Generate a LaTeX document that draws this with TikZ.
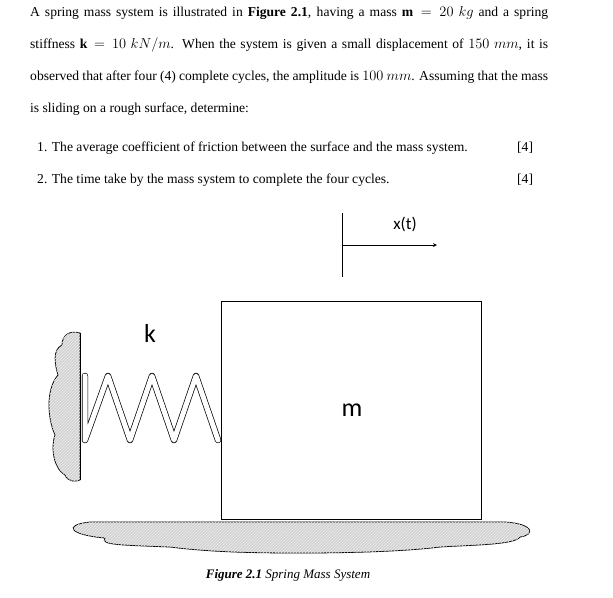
\documentclass[tikz,border=0pt]{standalone}
\usepackage{fontspec}
\setmainfont{Liberation Serif}
\newfontfamily\lsans{Carlito}
\usetikzlibrary{patterns}
\begin{document}
\begin{tikzpicture}[x=1pt,y=-1pt,
  txt/.style={anchor=west,inner sep=0pt,font=\fontsize{13.6}{15}\selectfont},
  blob/.style={draw=black,line width=0.8pt,fill=gray!35,postaction={pattern=north east lines,pattern color=white!85!gray}},
  lbl/.style={inner sep=0pt,font=\lsans\fontsize{#1}{#1}\selectfont}]
\useasboundingbox (0,0) rectangle (613,597);
\node[txt] (l1) at (30,13) {\makebox[518pt][s]{A spring mass system is illustrated in \textbf{Figure 2.1}, having a mass $\mathbf{m}=20\ kg$ and a spring}};
\node[txt] (l2) at (30,45) {\makebox[518pt][s]{stiffness $\mathbf{k}=10\ kN/m$. When the system is given a small displacement of $150\ mm$, it is}};
\node[txt] (l3) at (30,77) {\makebox[518pt][s]{observed that after four (4) complete cycles, the amplitude is $100\ mm$. Assuming that the mass}};
\node[txt] (l4) at (30,109) {is sliding on a rough surface, determine:};
\node[txt] (q1) at (37,148) {1. The average coefficient of friction between the surface and the mass system.};
\node[txt] (q2) at (37,180) {2. The time take by the mass system to complete the four cycles.};
\node[txt] (p1) at (517,148) {[4]};
\node[txt] (p2) at (517,180) {[4]};
% axis
\coordinate (ax0) at (342,213); \coordinate (ax1) at (342,277);
\coordinate (ar0) at (342,245); \coordinate (ar1) at (437,245);
\draw[line width=0.8pt] (ax0) -- (ax1);
\draw[line width=0.8pt,-stealth] (ar0) -- (ar1);
\node[lbl=17] (xt) at (405,224) {x(t)};
% wall
\path[blob] (80,333) .. controls (70,330) and (62,335) .. (62,345)
  .. controls (52,350) and (55,365) .. (58,375)
  .. controls (45,390) and (48,420) .. (55,435)
  .. controls (50,450) and (55,470) .. (65,475)
  .. controls (68,482) and (76,482) .. (80,480) -- cycle;
% ground
\path[blob] (90,522) -- (505,522) .. controls (535,524) and (535,535) .. (520,537)
  .. controls (515,545) and (470,545) .. (440,547)
  .. controls (400,552) and (340,553) .. (300,553)
  .. controls (250,553) and (210,552) .. (170,547)
  .. controls (120,545) and (100,545) .. (105,538)
  .. controls (70,535) and (62,525) .. (90,522) -- cycle;
% spring
\draw[line width=0.7pt,double=white,double distance=5pt,line join=round,line cap=round]
  (85,376) -- (85,440) -- (108,376) -- (130,440) -- (152,376) -- (174,440) -- (196,376) -- (218,440);
\draw[line width=1pt,black] (80,333) -- (80,480);
% mass
\node[draw,line width=0.9pt,minimum width=260pt,minimum height=218pt,inner sep=0pt] (m) at (351,410) {};
\node[lbl=26] (mt) at (352,410) {m};
\node[lbl=26] (kt) at (150,333) {k};
\node[inner sep=0pt,font=\fontsize{13}{15}\selectfont\itshape] (cap) at (288,575) {\textbf{Figure 2.1} Spring Mass System};
\end{tikzpicture}
\end{document}
